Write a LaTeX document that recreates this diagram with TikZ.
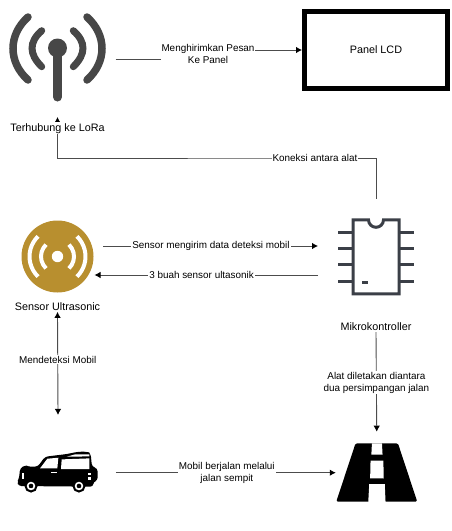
\documentclass[tikz,border=0pt]{standalone}
\usepackage{fontspec}
\setmainfont{Liberation Sans}
\usetikzlibrary{arrows.meta, positioning, backgrounds}
\definecolor{garis}{HTML}{4c4c4c}
\definecolor{antenaAbu}{HTML}{474747}
\definecolor{sensorEmas}{HTML}{b88f2f}
\definecolor{chipAbu}{HTML}{3b3f47}

\begin{document}
\begin{tikzpicture}[x=1pt, y=1pt,
        ikon/.style={inner sep=0pt, outer sep=0pt, minimum width=#1, minimum height=#1},
        teks/.style={fill=white, text=black, inner sep=1pt, align=center, font=\fontsize{9.9}{12}\selectfont},
        judul/.style={fill=white, text=black, inner sep=1pt, align=center, font=\fontsize{10.8}{13}\selectfont},
        panel/.style={draw=black, line width=5pt, minimum width=143pt, minimum height=77pt, align=center, font=\fontsize{10.8}{13}\selectfont},
        panah/.style={-{Latex[length=6pt, width=6.5pt, black]}, garis, line width=0.9pt},
        duapanah/.style={{Latex[length=6pt, width=6.5pt, black]}-{Latex[length=6pt, width=6.5pt, black]}, garis, line width=0.9pt}]
        \useasboundingbox (0,0) rectangle (452,-531);
        \node[ikon=116pt] (antena) at (57.5,-59) {};
        \node[panel, right=186.5pt of antena, yshift=9pt] (lcd) {Panel LCD};
        \node[judul, below=5pt of antena] (lora) {Terhubung ke LoRa};
        \node[teks] (pesan) at (208,-53.5) {Menghirimkan Pesan\\Ke Panel};
        \node[teks] (koneksi) at (315,-158) {Koneksi antara alat};
        \node[ikon=74pt] (sensor) at (57.5,-256.5) {};
        \node[ikon=116pt, right=223.5pt of sensor] (chip) {};
        \node[judul, below=8pt of sensor] (ultra) {Sensor Ultrasonic};
        \node[judul, below=7pt of chip] (mikro) {Mikrokontroller};
        \node[ikon=115.5pt] (mobil) at (58,-472.7) {};
        \node[ikon=82pt, right=220pt of mobil] (jalan) {};

        \begin{scope}[on background layer]
        \draw[panah] (antena.east) -| (pesan.center) |- (lcd.west);
        \draw[panah] (chip.north) |- (koneksi.center) -| (antena.south);
        \draw[panah, shorten <=8.5pt] ([yshift=10.5pt]sensor.east) -- node[teks, pos=0.521] (kirim) {Sensor mengirim data deteksi mobil} ([yshift=10.5pt]chip.west);
        \draw[panah] ([yshift=-18.5pt]chip.west) -- node[teks, pos=0.521] (buah) {3 buah sensor ultasonik} ([yshift=-18.5pt]sensor.east);
        \draw[duapanah] (ultra.south) -- node[teks, pos=0.465] (deteksi) {Mendeteksi Mobil} (mobil.north);
        \draw[panah] (mikro.south) -- node[teks, pos=0.507] (letak) {Alat diletakan diantara\\dua persimpangan jalan} (jalan.north);
        \draw[panah] (mobil.east) -- node[teks, pos=0.505] (lewat) {Mobil berjalan melalui\\jalan sempit} (jalan.west);
        \end{scope}

        % antena
        \begin{scope}[shift={(antena.center)}, antenaAbu, line cap=round]
        \foreach \sisi in {-1,1} {
          \draw[line width=7.5pt] (\sisi*29.5,42) .. controls (\sisi*49.5,24) and (\sisi*49.5,-3) .. (\sisi*29.5,-21);
          \draw[line width=7pt] (\sisi*15.8,28.3) .. controls (\sisi*28.7,17) and (\sisi*28.7,5) .. (\sisi*15.8,-7.7);
        }
        \fill (0,11) circle (9.5);
        \draw[line width=9pt] (0,11) -- (0,-38);
        \end{scope}

        % sensor
        \begin{scope}[shift={(sensor.center)}]
        \fill[sensorEmas] (0,0) circle (36);
        \fill[white] (0,0) circle (5.7);
        \foreach \sudut in {0,180} {
          \draw[white, line width=4pt] (\sudut-46:16.5) arc (\sudut-46:\sudut+46:16.5);
          \draw[white, line width=4pt] (\sudut-46:28) arc (\sudut-46:\sudut+46:28);
        }
        \end{scope}

        % chip
        \begin{scope}[shift={(chip.center)}, chipAbu]
        \foreach \y in {24.3,7.7,-8.3,-25} {
          \draw[line width=3.3pt] (-38,\y) -- (-23,\y);
          \draw[line width=3.3pt] (23,\y) -- (38,\y);
        }
        \draw[line width=3pt, fill=white] (-23,36.7) -- (-7.5,36.7) arc (180:360:7.5) -- (23,36.7) -- (23,-37.3) -- (-23,-37.3) -- cycle;
        \fill (-13.7,-24.7) rectangle (-8.4,-27);
        \end{scope}

        % mobil
        \begin{scope}[shift={(mobil.center)}, x=0.333pt, y=-0.333pt, shift={(-174,-218)}]
        \fill[black, rounded corners=3pt] (293,242) -- (293,205) -- (276,200) -- (272,160) -- (262,155) -- (235,155) -- (200,162) -- (135,170) -- (113,200) -- (85,200) -- (75,195) -- (60,205) -- (57,235) -- (52,245) -- (55,258) -- (280,260) -- (280,244) -- cycle;
        \fill[white] (120,205) -- (142,176) -- (175,173) -- (172,205) -- cycle;
        \fill[white] (185,178) -- (268,175) -- (268,207) -- (183,207) -- cycle;
        \fill[white] (200,170) -- (225,163) -- (268,163) -- (268,169) -- cycle;
        \fill[white] (152,215) rectangle (170,220);
        \fill[white] (65,220) rectangle (72,238);
        \fill[white] (265,220) rectangle (274,226);
        \fill[white] (265,232) rectangle (274,239);
        \foreach \roda in {93,237} {
          \fill[black] (\roda,258) circle (7.3);
          \draw[white, line width=2.7pt] (\roda,258) circle (12);
          \draw[black, line width=2pt] (\roda,258) circle (16.5);
        }
        \end{scope}

        % jalan
        \begin{scope}[shift={(jalan.center)}]
        \fill[black, rounded corners=1.5pt] (-21.2,29.4) -- (21.2,29.4) -- (40.5,-29) -- (-40.5,-29) -- cycle;
        \fill[white] (-4.8,29.4) -- (5.2,29.4) -- (5.8,18) -- (-5.4,18) -- cycle;
        \fill[white] (-6.2,12) -- (6.6,12) -- (7,-5.6) -- (-6.6,-5.6) -- cycle;
        \fill[white] (-7.5,-11.3) -- (8,-11.3) -- (8.8,-29.4) -- (-8.5,-29.4) -- cycle;
        \end{scope}
      \end{tikzpicture}
\end{document}
